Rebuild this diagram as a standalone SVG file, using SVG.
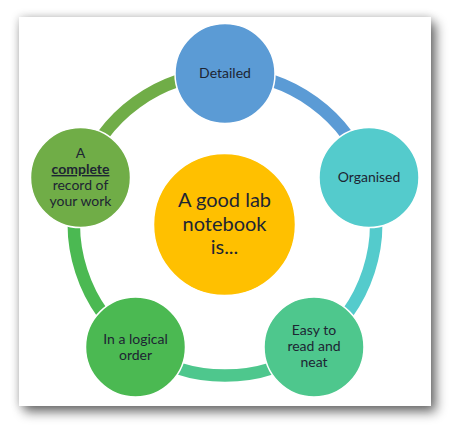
<svg xmlns="http://www.w3.org/2000/svg" width="450" height="426" viewBox="0 0 450 426">
<defs>
<filter id="sh" x="-10%" y="-10%" width="125%" height="125%">
<feGaussianBlur in="SourceAlpha" stdDeviation="6" result="b"/>
<feOffset in="b" dx="5" dy="6" result="o"/>
<feComponentTransfer in="o" result="o2"><feFuncA type="linear" slope="0.55"/></feComponentTransfer>
<feGaussianBlur in="SourceAlpha" stdDeviation="5" result="g"/>
<feComponentTransfer in="g" result="g2"><feFuncA type="linear" slope="0.2"/></feComponentTransfer>
<feMerge><feMergeNode in="g2"/><feMergeNode in="o2"/><feMergeNode in="SourceGraphic"/></feMerge>
</filter>
</defs>
<style>
.seg{fill:none;stroke-width:12.5}
.node{stroke:#fff;stroke-width:1.5}
text{font-family:Lato,"Liberation Sans",sans-serif;font-size:14px;fill:#1d2533;text-anchor:middle}
.big{font-size:20px}
</style>
<rect x="0" y="0" width="450" height="426" fill="#fff"/>
<rect x="19" y="17" width="412" height="389" fill="#fff" filter="url(#sh)"/>
<g id="connectors">
<path class="seg" stroke="#5B9BD5" d="M225,73.5 A151,151 0 0 1 368.6,177.8"/>
<path class="seg" stroke="#54CBCC" d="M368.6,177.8 A151,151 0 0 1 313.8,346.7"/>
<path class="seg" stroke="#4EC78D" d="M313.8,346.7 A151,151 0 0 1 136.2,346.7"/>
<path class="seg" stroke="#4BB952" d="M136.2,346.7 A151,151 0 0 1 81.4,177.8"/>
<path class="seg" stroke="#70AD47" d="M81.4,177.8 A151,151 0 0 1 225,73.5"/>
</g>
<g id="center">
<circle class="node" cx="224.5" cy="224.5" r="71" fill="#FFC000" stroke="none"/>
<text class="big" x="224.5" y="207">A good lab</text>
<text class="big" x="224.5" y="230.5">notebook</text>
<text class="big" x="224.5" y="254">is...</text>
</g>
<g id="detailed">
<circle class="node" cx="225" cy="73.5" r="50" fill="#5B9BD5"/>
<text x="225" y="78">Detailed</text>
</g>
<g id="organised">
<circle class="node" cx="369" cy="177.5" r="50" fill="#54CBCC"/>
<text x="369" y="182">Organised</text>
</g>
<g id="easy">
<circle class="node" cx="314" cy="347" r="50" fill="#4EC78D"/>
<text x="314" y="335">Easy to</text>
<text x="314" y="351">read and</text>
<text x="314" y="367">neat</text>
</g>
<g id="logical">
<circle class="node" cx="135.5" cy="347" r="50" fill="#4BB952"/>
<text x="135.5" y="343.5">In a logical</text>
<text x="135.5" y="359.5">order</text>
</g>
<g id="complete">
<circle class="node" cx="80.5" cy="177.5" r="50" fill="#70AD47"/>
<text x="80.5" y="158">A</text>
<text x="80.5" y="174" font-weight="bold" text-decoration="underline">complete</text>
<text x="80.5" y="190">record of</text>
<text x="80.5" y="206">your work</text>
</g>
</svg>
